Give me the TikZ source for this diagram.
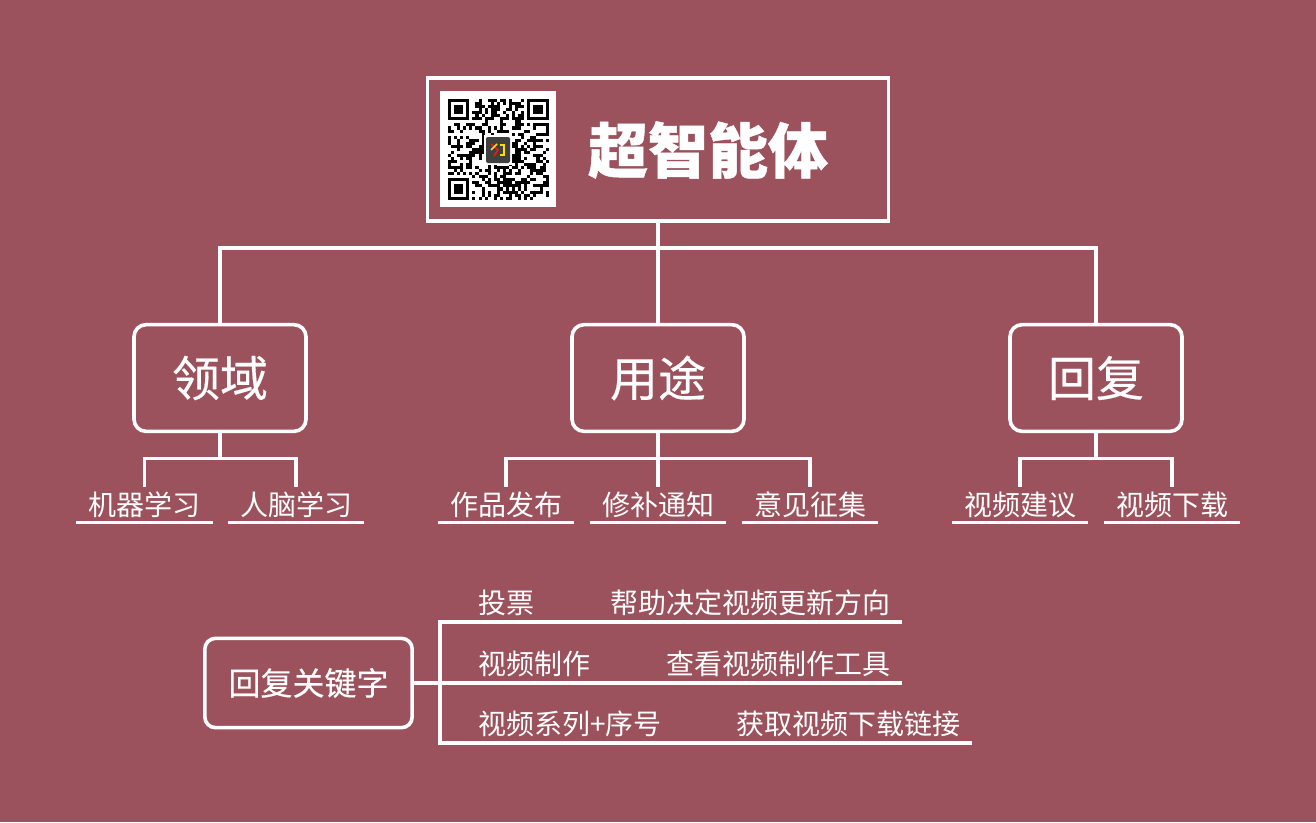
\documentclass[tikz,border=0pt]{standalone}
\usepackage{fontspec}
\usetikzlibrary{calc}
\setmainfont[BoldFeatures={FakeBold=0.8}]{Noto Sans CJK SC}
\setsansfont{Noto Sans CJK SC}
\newfontfamily\cjkthick[FakeBold=0.35]{Noto Sans CJK SC}
\definecolor{bgred}{HTML}{9B525C}
\tikzset{
  every node/.style = {font = \normalfont, text = white, inner sep = 0pt, outer sep = 0pt},
  wire/.style = {draw = white, line width = 2.7pt},
  topbox/.style = {wire, minimum width = 346pt, minimum height = 107pt},
  branch/.style = {wire, rounded corners = 9pt, minimum width = 129pt, minimum height = 80pt, font = \cjkthick\fontsize{36pt}{40pt}\selectfont},
  leaf/.style = {minimum width = 102.5pt, minimum height = 27pt, font = \fontsize{21pt}{24pt}\selectfont},
  keybox/.style = {wire, rounded corners = 8pt, minimum width = 155.5pt, minimum height = 67pt, font = \cjkthick\fontsize{24pt}{28pt}\selectfont},
  keytext/.style = {anchor = west, font = \fontsize{21pt}{24pt}\selectfont},
  keyhelp/.style = {anchor = east, font = \fontsize{21pt}{24pt}\selectfont}
}
\begin{document}
\begin{tikzpicture}[x=0.75pt,y=-0.75pt]
\fill[bgred] (0,0) rectangle (1316,822);
\useasboundingbox (0,0) rectangle (1316,822);

% top box
\node[topbox] (root) at (658,149.5) {};
\node[fill=white, minimum size=87pt] (qr) at (498,149) {};
\node[font=\fontsize{45pt}{50pt}\selectfont\bfseries] (title) at (708,150) {超智能体};

% qr code, modules are 3.05 px
\def\qs{3.05}
\def\qx{448}
\def\qy{99}
\pgfmathsetseed{2718}
\foreach \i in {0,...,32} {
  \foreach \j in {0,...,32} {
    \pgfmathparse{rnd>0.5 ? 1 : 0}
    \ifnum\pgfmathresult=1
      \fill[black] ({\qx+\i*\qs},{\qy+\j*\qs}) rectangle ++(\qs,\qs);
    \fi
  }
}
% corners of the code
\foreach \cx/\cy in {0/0,26/0,0/26} {
  \fill[white] ({\qx+(\cx-1)*\qs},{\qy+(\cy-1)*\qs}) rectangle ++({9*\qs},{9*\qs});
  \fill[black] ({\qx+\cx*\qs},{\qy+\cy*\qs}) rectangle ++({7*\qs},{7*\qs});
  \fill[white] ({\qx+(\cx+1)*\qs},{\qy+(\cy+1)*\qs}) rectangle ++({5*\qs},{5*\qs});
  \fill[black] ({\qx+(\cx+2)*\qs},{\qy+(\cy+2)*\qs}) rectangle ++({3*\qs},{3*\qs});
}
% logo
\fill[white] (484,135) rectangle (512,165);
\fill[black!75, rounded corners=1.5pt] (486,137) rectangle (510,163);
\draw[red!80!orange, line width=1.1pt] (491,144) -- (498,150) -- (494,156);
\draw[yellow!80!orange, line width=1.1pt] (497,144) -- (491,150);
\draw[yellow!80!orange, line width=1.1pt] (500,145) -- (504,145) -- (504,155) -- (500,155);

% branches
\node[branch] (field) at (220,378) {领域};
\node[branch] (usage) at (658,378) {用途};
\node[branch] (reply) at (1096,378) {回复};

\draw[wire] (root.south) -- (usage.north);
\draw[wire] ($(root.south)+(0,27)$) -| (field.north);
\draw[wire] ($(root.south)+(0,27)$) -| (reply.north);

% leaves
\node[leaf] (ml)     at (144.5,504.5) {机器学习};
\node[leaf] (brain)  at (296,504.5)   {人脑学习};
\node[leaf] (works)  at (506,504.5)   {作品发布};
\node[leaf] (patch)  at (658,504.5)   {修补通知};
\node[leaf] (poll)   at (810,504.5)   {意见征集};
\node[leaf] (advice) at (1020,504.5)  {视频建议};
\node[leaf] (down)   at (1172,504.5)  {视频下载};

\foreach \n in {ml,brain,works,patch,poll,advice,down} {
  \draw[wire] (\n.south west) -- (\n.south east);
}
\foreach \p/\n in {field/ml,field/brain,usage/works,usage/poll,reply/advice,reply/down} {
  \draw[wire] ($(\p.south)+(0,27)$) -| (\n.north);
}
\foreach \p in {field,reply} {
  \draw[wire] (\p.south) -- ++(0,27);
}
\draw[wire] (usage.south) -- (patch.north);

% keywords
\node[keybox] (keys) at (308.5,683) {回复关键字};

\coordinate (joint) at (440,683);
\coordinate (rowA) at (440,622);
\coordinate (rowB) at (440,743);
\coordinate (endA) at (902,622);
\coordinate (endJ) at (902,683);
\coordinate (endB) at (972,743);

\draw[wire] (keys.east) -- (joint);
\draw[wire, line cap=rect] (rowA) -- (rowB);
\draw[wire] (rowA) -- (endA);
\draw[wire] (joint) -- (endJ);
\draw[wire] (rowB) -- (endB);

\node[keytext] (vote)   at (478,603) {投票};
\node[keytext] (make)   at (478,664) {视频制作};
\node[keytext] (series) at (478,724) {视频系列+序号};
\node[keyhelp] (voteh)   at (890,603) {帮助决定视频更新方向};
\node[keyhelp] (makeh)   at (890,664) {查看视频制作工具};
\node[keyhelp] (seriesh) at (960,724) {获取视频下载链接};
\end{tikzpicture}
\end{document}
